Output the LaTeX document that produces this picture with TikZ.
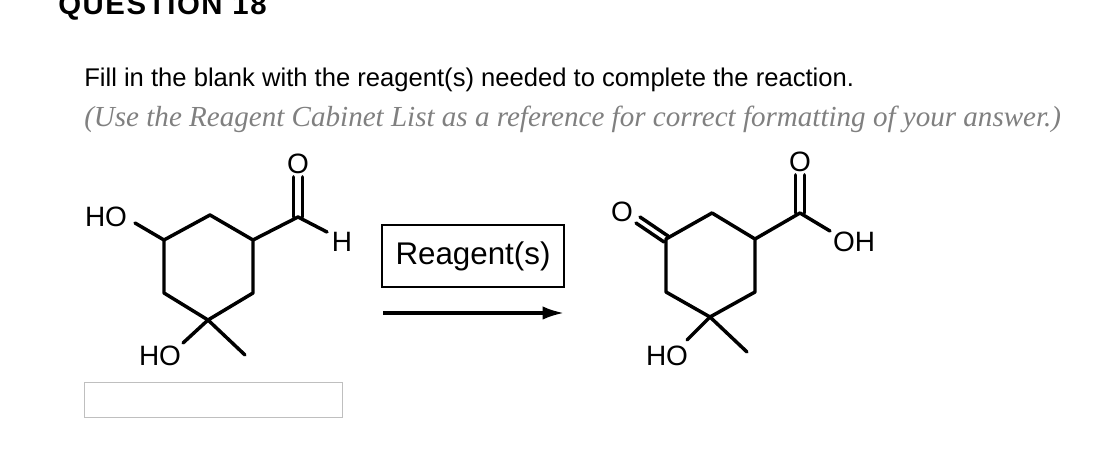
\documentclass[tikz,border=0pt]{standalone}
\usepackage{fontspec}
\setmainfont{Liberation Sans}
\newfontfamily\serifit{Liberation Serif}
\usetikzlibrary{arrows.meta}
\begin{document}
\begin{tikzpicture}[x=0.75pt,y=-0.75pt,
  bond/.style={line width=2.6pt,line cap=round,line join=round},
  atom/.style={font=\fontsize{21}{24}\selectfont,inner sep=0pt},
  txt/.style={anchor=base west,inner sep=0pt}]
\useasboundingbox (0,0) rectangle (1104,470);
\fill[white] (0,0) rectangle (1104,470);
\node[txt,font=\bfseries\fontsize{22}{24}\selectfont] (title) at (58,15) {Q\kern1.2pt U\kern1.2pt E\kern1.2pt S\kern1.2pt T\kern1.2pt I\kern1.2pt O\kern1.2pt N\kern1.2pt\ 1\kern1.2pt 8};
\node[txt,font=\fontsize{19.2}{22}\selectfont] (q) at (84,87) {Fill in the blank with the reagent(s) needed to complete the reaction.};
\node[txt,font=\serifit\itshape\fontsize{21.8}{24}\selectfont,text=black!50] (hint) at (84,127) {(Use the Reagent Cabinet List as a reference for correct formatting of your answer.)};
% left molecule
\coordinate (a1) at (210,215); \coordinate (a2) at (253,240); \coordinate (a3) at (253,293);
\coordinate (a4) at (208,320); \coordinate (a5) at (164,293); \coordinate (a6) at (164,240);
\coordinate (ac) at (298,217); \coordinate (ahb) at (327,232); \coordinate (aob) at (135,223);
\coordinate (ab) at (183,343); \coordinate (am) at (245,355);
\node[atom] (aO) at (298,164) {O};
\node[atom] (aH) at (342,242) {H};
\node[atom] (aHO) at (106,217) {HO};
\node[atom] (aHO2) at (160,356) {HO};
\draw[bond] (a1)--(a2)--(a3)--(a4)--(a5)--(a6)--cycle;
\draw[bond] (a2)--(ac)--(ahb);
\draw[bond] (a6)--(aob);
\draw[bond] (a4)--(ab); \draw[bond] (a4)--(am);
\draw[bond] ([xshift=-3.5]ac)--([xshift=-3.5,yshift=-2]aO.south);
\draw[bond] ([xshift=3.5]ac)--([xshift=3.5,yshift=-2]aO.south);
% reagent
\node[draw,line width=2.2pt,minimum width=182*0.75pt,minimum height=62*0.75pt,font=\fontsize{23.5}{26}\selectfont] (box) at (473,256) {Reagent(s)};
\coordinate (r1) at (383,313); \coordinate (r2) at (564,313);
\draw[line width=2.4pt,-{Latex[length=16pt,width=10pt]}] (r1)--(r2);
% right molecule
\coordinate (b1) at (712,213); \coordinate (b2) at (755,239); \coordinate (b3) at (755,292);
\coordinate (b4) at (710,317); \coordinate (b5) at (666,292); \coordinate (b6) at (666,239);
\coordinate (bc) at (800,213); \coordinate (bohb) at (830,231);
\coordinate (bb) at (687,340); \coordinate (bm) at (747,352);
\coordinate (k1a) at (668,236); \coordinate (k1b) at (640,217);
\coordinate (k2a) at (664,242); \coordinate (k2b) at (636,223);
\node[atom] (bO) at (800,162) {O};
\node[atom] (bOk) at (622,212) {O};
\node[atom] (bOH) at (854,242) {OH};
\node[atom] (bHO) at (667,356) {HO};
\draw[bond] (b1)--(b2)--(b3)--(b4)--(b5)--(b6)--cycle;
\draw[bond] (b2)--(bc)--(bohb);
\draw[bond] (b4)--(bb); \draw[bond] (b4)--(bm);
\draw[bond] ([xshift=-3.5]bc)--([xshift=-3.5,yshift=-2]bO.south);
\draw[bond] ([xshift=3.5]bc)--([xshift=3.5,yshift=-2]bO.south);
\draw[bond] (k1a)--(k1b); \draw[bond] (k2a)--(k2b);
% answer box
\node[draw=black!25,line width=0.75pt,minimum width=258*0.75pt,minimum height=35*0.75pt,inner sep=0pt] (ans) at (213,400) {};
\end{tikzpicture}
\end{document}
